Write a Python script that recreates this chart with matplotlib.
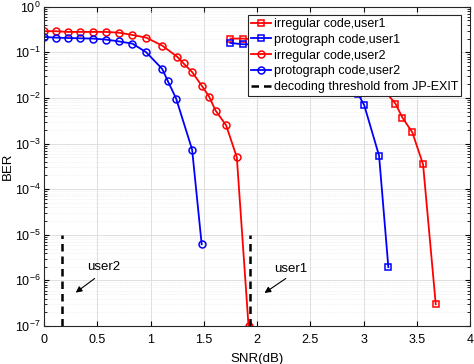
import matplotlib.pyplot as plt
from matplotlib.ticker import LogLocator, NullFormatter

plt.rcParams['font.family'] = ['Liberation Sans', 'DejaVu Sans']
plt.rcParams['mathtext.fontset'] = 'custom'
plt.rcParams['mathtext.rm'] = 'Liberation Sans'
plt.rcParams['mathtext.it'] = 'Liberation Sans:italic'

# user2 curves (circles)
snr_irr_u2 = [0.0, 0.11, 0.22, 0.34, 0.46, 0.58, 0.70, 0.83, 0.96, 1.11, 1.25, 1.31,
              1.39, 1.48, 1.55, 1.61, 1.71, 1.81, 1.92]
ber_irr_u2 = [0.29, 0.29, 0.28, 0.28, 0.28, 0.28, 0.27, 0.24, 0.21, 0.14, 0.08, 0.057,
              0.037, 0.0186, 0.0107, 0.0053, 0.0025, 0.0005, 1e-7]

snr_pro_u2 = [0.0, 0.11, 0.22, 0.34, 0.46, 0.58, 0.70, 0.83, 0.96, 1.11, 1.16, 1.24, 1.39, 1.48]
ber_pro_u2 = [0.217, 0.21, 0.206, 0.203, 0.2, 0.19, 0.174, 0.155, 0.10, 0.043, 0.024,
              0.0097, 0.00074, 6.2e-6]

# user1 curves (squares), middle part sits behind the legend
snr_irr_u1 = [1.75, 1.87, 1.99, 2.11, 2.23, 2.35, 2.47, 2.59, 2.71, 2.83, 2.95, 3.07,
              3.19, 3.30, 3.365, 3.458, 3.559, 3.678]
ber_irr_u1 = [0.2, 0.2, 0.19, 0.19, 0.18, 0.17, 0.16, 0.14, 0.11, 0.08, 0.05, 0.03,
              0.015, 0.0075, 0.0037, 0.00176, 3.5e-4, 3.0e-7]

snr_pro_u1 = [1.75, 1.87, 1.99, 2.11, 2.23, 2.35, 2.47, 2.59, 2.71, 2.83, 2.95, 3.006,
              3.146, 3.233]
ber_pro_u1 = [0.16, 0.15, 0.15, 0.145, 0.14, 0.13, 0.12, 0.1, 0.07, 0.04, 0.012, 0.007,
              5.4e-4, 1.95e-6]

# decoding thresholds from JP-EXIT
thr_u2 = 0.17
thr_u1 = 1.93
thr_top = 1e-5

fig = plt.figure(figsize=(4.74, 3.64), dpi=100)
ax = fig.add_axes([0.093, 0.1044, 0.8986, 0.8772])

ms = 5
ax.plot(snr_irr_u1, ber_irr_u1, 'r-s', lw=1.3, ms=ms, mfc='none', mew=1.1,
        label='irregular code,user1')
ax.plot(snr_pro_u1, ber_pro_u1, 'b-s', lw=1.3, ms=ms, mfc='none', mew=1.1,
        label='protograph code,user1')
ax.plot(snr_irr_u2, ber_irr_u2, 'r-o', lw=1.3, ms=ms, mfc='none', mew=1.1,
        label='irregular code,user2')
ax.plot(snr_pro_u2, ber_pro_u2, 'b-o', lw=1.3, ms=ms, mfc='none', mew=1.1,
        label='protograph code,user2')
ax.plot([thr_u2, thr_u2], [1e-7, thr_top], color='k', ls=(0, (3, 2)), lw=1.8,
        label='decoding threshold from JP-EXIT')
ax.plot([thr_u1, thr_u1], [1e-7, thr_top], color='k', ls=(0, (3, 2)), lw=1.8)

arrow = dict(arrowstyle='-|>', color='k', lw=0.8, mutation_scale=9, shrinkA=0, shrinkB=0)
ax.text(0.56, 2.0e-6, 'user2', ha='center', va='center', fontsize=9.5)
ax.annotate('', xy=(0.297, 5.4e-7), xytext=(0.475, 1.1e-6), arrowprops=arrow)
ax.text(2.32, 1.75e-6, 'user1', ha='center', va='center', fontsize=9.5)
ax.annotate('', xy=(2.07, 5.3e-7), xytext=(2.27, 1.1e-6), arrowprops=arrow)

ax.set_yscale('log')
ax.set_xlim(0, 4)
ax.set_ylim(1e-7, 1)
ax.set_xticks([0, 0.5, 1, 1.5, 2, 2.5, 3, 3.5, 4])
ax.set_xticklabels(['0', '0.5', '1', '1.5', '2', '2.5', '3', '3.5', '4'])
ax.yaxis.set_major_locator(LogLocator(base=10, numticks=10))
ax.yaxis.set_minor_locator(LogLocator(base=10, subs=range(2, 10), numticks=100))
ax.yaxis.set_minor_formatter(NullFormatter())

ax.grid(True, which='major', color='#dedede', lw=0.7)
ax.grid(True, which='minor', axis='y', color='#e8e8e8', lw=0.5, ls=':')
ax.set_axisbelow(True)
ax.tick_params(which='both', direction='in', top=True, right=True, labelsize=9)
ax.tick_params(which='major', length=3.5, pad=2.5)
ax.tick_params(which='minor', length=2)
ax.tick_params(axis='x', which='major', pad=6)
for s in ax.spines.values():
    s.set_linewidth(0.8)
    s.set_color('#262626')

ax.set_xlabel('SNR(dB)', fontsize=9.5, labelpad=4.5)
ax.set_ylabel('BER', fontsize=9.5, labelpad=1)

leg = ax.legend(loc='upper right', bbox_to_anchor=(0.979, 0.974), fontsize=9,
                fancybox=False, framealpha=1, edgecolor='#262626', borderpad=0.25,
                labelspacing=0.3, handlelength=1.6, handletextpad=0.2, borderaxespad=0)
leg.get_frame().set_linewidth(0.8)

fig.savefig('out.png', dpi=100)
